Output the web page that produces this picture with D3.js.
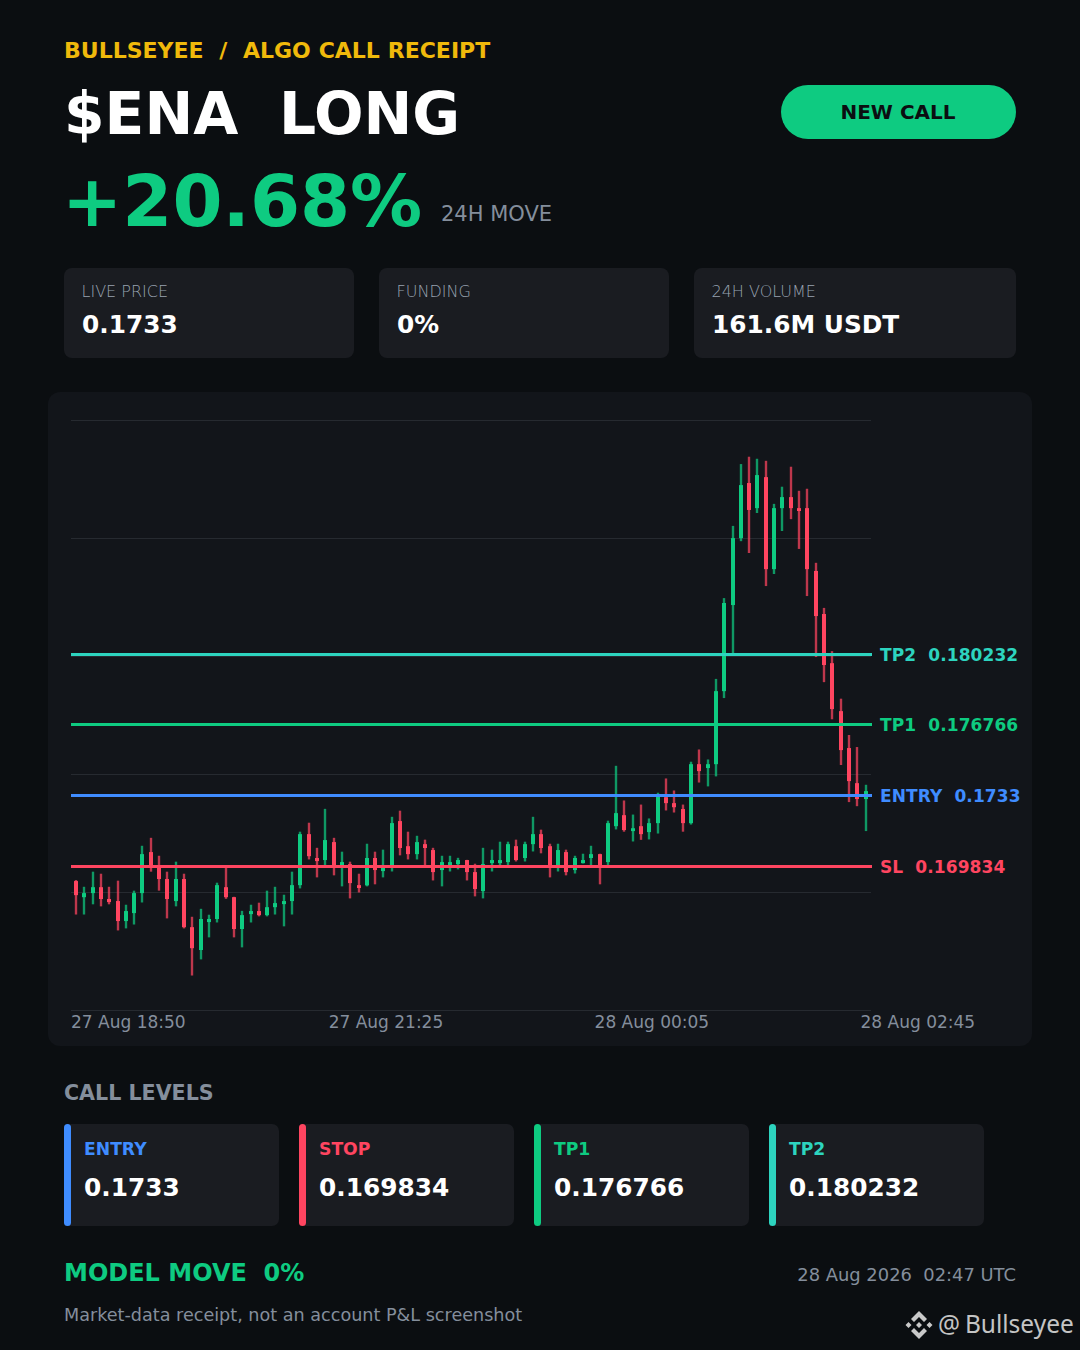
<!DOCTYPE html>
<html><head><meta charset="utf-8">
<script src="https://cdnjs.cloudflare.com/ajax/libs/d3/7.8.5/d3.min.js"></script>
<style>
html,body{margin:0;padding:0;background:#0b0e11;}
svg{display:block;}
text{font-family:"DejaVu Sans",sans-serif;white-space:pre;}
</style></head><body>
<svg id="c" width="1080" height="1350"></svg>
<script>
const timeLabels = ["27 Aug 18:50","27 Aug 21:25","28 Aug 00:05","28 Aug 02:45"];
const timeIndex = [0,31,63,95];
const gridPrices = [0.19171,0.18593,0.18014,0.17436,0.16858,0.16279];
const open = [.16911,.16832,.16852,.16881,.16823,.16813,.16715,.16754,.16852,.17053,.16983,.16921,.16813,.16921,.16685,.16573,.16710,.16725,.16881,.16832,.16676,.16749,.16764,.16744,.16783,.16798,.16813,.16891,.17141,.17024,.17014,.17102,
.16984,.16994,.16891,.16890,.17024,.16960,.16984,.17205,.17082,.17043,.17092,.17063,.16965,.16984,.16994,.17014,.16955,.16862,.16999,.16999,.17004,.17082,.17024,.17092,.17141,.17082,.16984,.17053,.16965,.16999,.17024,.17043,
.17004,.17180,.17234,.17156,.17180,.17151,.17195,.17322,.17293,.17264,.17195,.17484,.17465,.17484,.17842,.18264,.18592,.18862,.18739,.18891,.18440,.18739,.18793,.18739,.18739,.18431,.18220,.17979,.17744,.17563,.17391,.17313];
const close = [.16842,.16852,.16881,.16823,.16808,.16715,.16764,.16852,.17043,.16984,.16921,.16823,.16921,.16685,.16582,.16725,.16725,.16891,.16832,.16676,.16744,.16764,.16744,.16783,.16803,.16813,.16891,.17141,.17033,.17009,.17112,.16984,
.17004,.16901,.16877,.17024,.16965,.16975,.17195,.17073,.17043,.17102,.17073,.16955,.17004,.17004,.17014,.16955,.16872,.16994,.17014,.17014,.17092,.17014,.17092,.17141,.17073,.16984,.17063,.16955,.17024,.17014,.17043,.16988,
.17195,.17244,.17161,.17170,.17141,.17195,.17332,.17293,.17273,.17195,.17484,.17450,.17484,.17842,.18274,.18592,.18852,.18730,.18901,.18440,.18739,.18793,.18739,.18725,.18440,.18210,.17970,.17754,.17553,.17401,.17313,.17352];
const high = [.16916,.16883,.16957,.16947,.16883,.16913,.16795,.16864,.17084,.17123,.17035,.16957,.17006,.16947,.16736,.16775,.16746,.16903,.16984,.16834,.16765,.16795,.16805,.16864,.16883,.16844,.16957,.17153,.17197,.17074,.17265,.17123,
.17055,.17006,.16947,.17094,.17055,.17065,.17226,.17256,.17153,.17133,.17114,.17074,.17035,.17035,.17025,.17015,.16996,.17074,.17065,.17104,.17104,.17114,.17104,.17226,.17163,.17094,.17094,.17065,.17035,.17045,.17084,.17045,
.17207,.17476,.17306,.17237,.17286,.17218,.17344,.17414,.17355,.17286,.17496,.17556,.17507,.17902,.18298,.18652,.18955,.18991,.18981,.18971,.18760,.18844,.18942,.18824,.18834,.18471,.18250,.18038,.17805,.17627,.17568,.17383];
const low = [.16747,.16747,.16797,.16787,.16797,.16669,.16679,.16698,.16806,.16957,.16864,.16728,.16787,.16679,.16448,.16527,.16635,.16708,.16824,.16635,.16586,.16708,.16738,.16738,.16747,.16689,.16747,.16875,.17017,.16929,.16989,.16939,
.16885,.16826,.16855,.16885,.16895,.16929,.16958,.17037,.17017,.17017,.16984,.16914,.16885,.16958,.16968,.16914,.16836,.16826,.16958,.16984,.16988,.17007,.17007,.17056,.17047,.16929,.16958,.16939,.16948,.16997,.16988,.16895,
.16978,.17164,.17153,.17105,.17113,.17115,.17144,.17257,.17247,.17153,.17188,.17394,.17375,.17424,.17808,.18019,.18577,.18519,.18715,.18357,.18416,.18627,.18685,.18539,.18308,.18009,.17886,.17704,.17480,.17298,.17278,.17156];

const levelNames = ["TP2","TP1","ENTRY","SL"];
const levelPrices = [0.180232,0.176766,0.1733,0.169834];
const levelColors = ["#2dd4bf","#0ecb81","#3f8cff","#ff4560"];
const statLabels = ["LIVE PRICE","FUNDING","24H VOLUME"];
const statValues = ["0.1733","0%","161.6M USDT"];
const cardLabels = ["ENTRY","STOP","TP1","TP2"];
const cardValues = ["0.1733","0.169834","0.176766","0.180232"];
const cardColors = ["#3f8cff","#ff4560","#0ecb81","#2dd4bf"];

const GREEN="#0ecb81", RED="#ff4560", GREY="#848e9c", CARD="#1a1c21", BG="#0b0e11";
const svg = d3.select("#c");
svg.append("rect").attr("width",1080).attr("height",1350).attr("fill",BG);
function T(x,y,s,size,fill,weight,extra){
  const t=svg.append("text").attr("x",x).attr("y",y).text(s).attr("font-size",size).attr("fill",fill).attr("font-weight",weight||400);
  if(extra) Object.entries(extra).forEach(([k,v])=>t.attr(k,v));
  return t;
}
// header
T(64,58,"BULLSEYEE  /  ALGO CALL RECEIPT",22,"#f0b90b",700,{"word-spacing":0.2});
T(64,134,"$ENA  LONG",58.3,"#ffffff",700);
T(62,226,"+20.68%",72,GREEN,700);
T(441,221,"24H MOVE",21,GREY,400);
svg.append("rect").attr("x",781).attr("y",85).attr("width",235).attr("height",54).attr("rx",27).attr("fill",GREEN);
T(898,119,"NEW CALL",20,BG,700,{"text-anchor":"middle"});

// stats
const statX=d3.scaleOrdinal().domain(statLabels).range([64,379,694]);
const statW=d3.scaleOrdinal().domain(statLabels).range([290,290,322]);
statLabels.forEach((l,i)=>{
  const x=statX(l);
  svg.append("rect").attr("x",x).attr("y",268).attr("width",statW(l)).attr("height",90).attr("rx",8).attr("fill",CARD);
  T(x+17.5,297,l,16,"#98a2b0",200);
  T(x+18,333,statValues[i],24.8,"#ffffff",700);
});

// panel
svg.append("rect").attr("x",48).attr("y",392).attr("width",984).attr("height",654).attr("rx",12).attr("fill","#12151a");
const pL=71,pR=871,pT=420,pB=1010;
const y=d3.scaleLinear().domain([0.16279,0.19171]).range([pB,pT]);
const x=d3.scaleLinear().domain([0,95]).range([76,865.5]);

svg.append("g").selectAll("line").data(gridPrices).join("line")
  .attr("x1",pL).attr("x2",pR).attr("y1",d=>Math.round(y(d))+.5).attr("y2",d=>Math.round(y(d))+.5)
  .attr("stroke","#262a30").attr("stroke-width",1);

const idx=d3.range(open.length);
const g=svg.append("g");
g.selectAll("line").data(idx).join("line")
  .attr("x1",i=>Math.round(x(i))).attr("x2",i=>Math.round(x(i))).attr("y1",i=>y(high[i])).attr("y2",i=>y(low[i]))
  .attr("stroke",i=>close[i]>=open[i]?GREEN:RED).attr("stroke-width",2.4).attr("opacity",.72);
g.selectAll("rect").data(idx).join("rect")
  .attr("x",i=>Math.round(x(i))-2).attr("width",4)
  .attr("y",i=>y(Math.max(open[i],close[i])))
  .attr("height",i=>Math.max(2,Math.abs(y(open[i])-y(close[i]))))
  .attr("fill",i=>close[i]>=open[i]?GREEN:RED);

// levels
levelNames.forEach((n,i)=>{
  const yy=Math.floor(y(levelPrices[i]))+.5;
  svg.append("line").attr("x1",pL).attr("x2",872).attr("y1",yy).attr("y2",yy).attr("stroke",levelColors[i]).attr("stroke-width",3);
  T(880,yy+6,n+"  "+levelPrices[i],17,levelColors[i],700,{"letter-spacing":0.1});
});

// time axis
const axis=d3.axisBottom(x).tickValues(timeIndex).tickFormat((d,i)=>timeLabels[i]).tickSize(0);
const ax=svg.append("g").attr("transform","translate(0,1010)").call(axis);
ax.select(".domain").remove();
ax.selectAll("text").attr("text-anchor","start").attr("dx",-5.5).attr("y",0).attr("dy",18).attr("fill",GREY).attr("font-size",17).attr("font-family","DejaVu Sans");

// call levels
T(64,1100,"CALL LEVELS",20.6,GREY,700);
const cx=d3.scalePoint().domain(cardLabels).range([64,769]);
cardLabels.forEach((l,i)=>{
  const xx=cx(l);
  svg.append("rect").attr("x",xx).attr("y",1124).attr("width",215).attr("height",102).attr("rx",7).attr("fill",CARD);
  svg.append("rect").attr("x",xx).attr("y",1124).attr("width",7).attr("height",102).attr("rx",3.5).attr("fill",cardColors[i]);
  T(xx+20,1155,l,17.2,cardColors[i],700);
  T(xx+20,1196,cardValues[i],24.8,"#ffffff",700);
});

// footer
T(64,1281,"MODEL MOVE  0%",24,GREEN,700);
T(1016,1281,"28 Aug 2026  02:47 UTC",17.9,GREY,400,{"text-anchor":"end"});
T(64,1321,"Market-data receipt, not an account P&L screenshot",17.6,GREY,400);
// watermark
const wm=svg.append("g").attr("transform","translate(919,1325)").attr("fill","#c9c9c9");
const D=(cx,cy,r)=>`M${cx},${cy-r}L${cx+r},${cy}L${cx},${cy+r}L${cx-r},${cy}Z`;
wm.append("path").attr("d",D(-10.5,0,3)+D(10.5,0,3)+D(0,0,3));
wm.append("path").attr("d","M0,-14L8,-6L5,-3L0,-8L-5,-3L-8,-6Z");
wm.append("path").attr("d","M0,14L8,6L5,3L0,8L-5,3L-8,6Z");
svg.append("text").attr("x",938).attr("y",1333).text("@ Bullseyee").attr("font-size",24.5).attr("fill","#c4c4c4").attr("word-spacing",-1.5).style("font-family","'Noto Sans'");
</script></body></html>
